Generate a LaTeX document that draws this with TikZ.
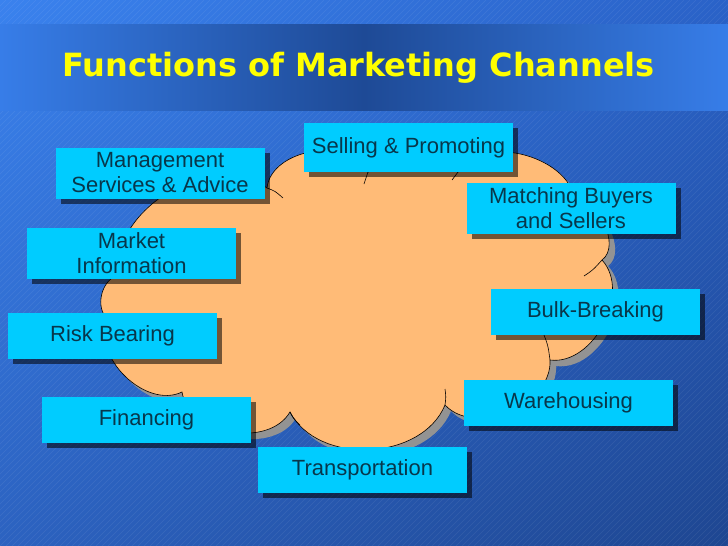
\documentclass[tikz,border=0pt]{standalone}
\usepackage{fontspec}
\setmainfont{Liberation Sans}
\newfontfamily\titlefont{DejaVu Sans}
\usepackage{tikz}
\usetikzlibrary{shadows, shadings, positioning}

\definecolor{boxcyan}{RGB}{0,204,255}
\definecolor{boxtext}{RGB}{8,55,75}
\definecolor{cloudpeach}{RGB}{255,187,119}
\definecolor{titleyellow}{RGB}{255,255,0}
\definecolor{bgtl}{RGB}{58,130,238}
\definecolor{bgtr}{RGB}{42,98,200}
\definecolor{bgbl}{RGB}{44,98,192}
\definecolor{bgbr}{RGB}{30,70,145}
\definecolor{bandedge}{RGB}{55,125,232}
\definecolor{bandmid}{RGB}{30,74,150}

\tikzset{
  fnbox/.style={fill=boxcyan, text=boxtext, minimum width=209pt,
    minimum height=46pt, inner sep=0pt, align=center,
    font=\fontsize{22}{25}\selectfont,
    drop shadow={shadow xshift=5pt, shadow yshift=-5pt, fill=black, opacity=0.55}},
  twoline/.style={minimum height=51pt},
  cloudpart/.style={fill=cloudpeach, draw=black, line width=0.6pt,
    drop shadow={shadow xshift=6pt, shadow yshift=-6pt, fill=gray!85, opacity=1}},
  puffline/.style={black, line width=0.6pt},
}

\begin{document}
\begin{tikzpicture}[x=1pt, y=-1pt]
    \useasboundingbox (0,0) rectangle (728,546);

    % Define the background
    \shade[upper left=bgtl, upper right=bgtr, lower left=bgbl, lower right=bgbr]
        (0,0) rectangle (728,546);
    \begin{scope}
        \clip (0,0) rectangle (728,546);
        \foreach \s in {0,6,...,1280}
            \draw[white, opacity=0.08, line width=0.6pt] (\s-546,546) -- (\s,0);
    \end{scope}
    \shade[left color=bandedge, right color=bandedge, middle color=bandmid]
        (0,24) rectangle (728,110);

    % Title
    \node[text=titleyellow, font=\titlefont\bfseries\fontsize{32}{36}\selectfont]
        (title) at (358.5,68) {Functions of Marketing Channels};

    % The cloud
    \filldraw[cloudpart] (267,188) to[bend left=75] (368,172)
        to[bend left=75] (458,172) to[bend left=75] (575,205)
        to[bend left=80] (602,260) to[bend left=70] (550,360)
        to[bend left=70] (445,405) to[bend left=65] (290,412)
        to[bend left=70] (182,392) to[bend left=70] (108,320)
        to[bend left=60] (118,275) to[bend left=65] (267,188) -- cycle;

    % inner puff strokes
    \draw[puffline] (267,188) .. controls (275,191) .. (283,198);
    \draw[puffline] (368,172) .. controls (366,178) .. (364,184);
    \draw[puffline] (458,172) .. controls (455,176) .. (452,180);
    \draw[puffline] (602,260) .. controls (593,270) .. (584,276);
    \draw[puffline] (550,360) .. controls (548,345) .. (542,330);
    \draw[puffline] (445,405) .. controls (446,397) .. (445,389);
    \draw[puffline] (290,412) .. controls (293,418) .. (300,425);

    % Mark functions
    \node[fnbox, twoline] (mgmt) at (160,173) {Management\\Services \& Advice};
    \node[fnbox, twoline] (info) at (131.5,253.5) {Market\\Information};
    \node[fnbox] (risk) at (112.5,336) {Risk Bearing};
    \node[fnbox] (fin) at (146.5,419.5) {Financing};
    \node[fnbox] (trans) at (362.5,469.5) {Transportation};
    \node[fnbox] (ware) at (568.5,402.5) {Warehousing};
    \node[fnbox] (bulk) at (595.5,311.5) {Bulk-Breaking};
    \node[fnbox, twoline] (match) at (571,208.5) {Matching Buyers\\and Sellers};
    \node[fnbox, minimum height=49pt] (sell) at (408.5,147.5) {Selling \& Promoting};
\end{tikzpicture}
\end{document}
